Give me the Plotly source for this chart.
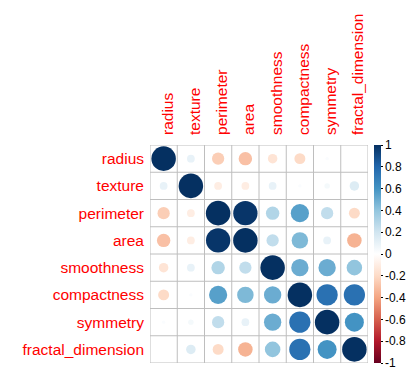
import plotly.graph_objects as go
import numpy as np

variables = ["radius", "texture", "perimeter", "area", "smoothness",
             "compactness", "symmetry", "fractal_dimension"]

row_radius      = [1.00, 0.10, -0.25, -0.30, -0.15, -0.20, 0.02, 0.00]
row_texture     = [0.10, 1.00, -0.10, -0.10, 0.10, 0.02, 0.05, 0.15]
row_perimeter   = [-0.25, -0.10, 1.00, 0.98, 0.30, 0.55, 0.25, -0.20]
row_area        = [-0.30, -0.10, 0.98, 1.00, 0.25, 0.45, 0.10, -0.35]
row_smoothness  = [-0.15, 0.10, 0.30, 0.25, 1.00, 0.50, 0.50, 0.40]
row_compactness = [-0.20, 0.02, 0.55, 0.45, 0.50, 1.00, 0.75, 0.75]
row_symmetry    = [0.02, 0.05, 0.25, 0.10, 0.50, 0.75, 1.00, 0.60]
row_fractal     = [0.00, 0.15, -0.20, -0.35, 0.40, 0.75, 0.60, 1.00]

corr = np.array([row_radius, row_texture, row_perimeter, row_area,
                 row_smoothness, row_compactness, row_symmetry, row_fractal])

cb_ticks = [-1, -0.8, -0.6, -0.4, -0.2, 0, 0.2, 0.4, 0.6, 0.8, 1]
cb_labels = ["-1", "-0.8", "-0.6", "-0.4", "-0.2", "0", "0.2", "0.4", "0.6", "0.8", "1"]

rdbu = ["#67001F", "#B2182B", "#D6604D", "#F4A582", "#FDDBC7", "#FFFFFF",
        "#D1E5F0", "#92C5DE", "#4393C3", "#2166AC", "#053061"]
colorscale = [[i / 10, c] for i, c in enumerate(rdbu)]

W, H = 415, 372
ml, mr, mt, mb = 150, 47, 145, 9
n = len(variables)
cell = (W - ml - mr) / n

xs, ys, vals, sizes = [], [], [], []
for i in range(n):
    for j in range(n):
        xs.append(j)
        ys.append(i)
        vals.append(corr[i, j])
        sizes.append(0.9 * np.sqrt(abs(corr[i, j])) * cell)

fig = go.Figure()
fig.add_trace(go.Scatter(
    x=xs, y=ys, mode="markers",
    marker=dict(size=sizes, color=vals, colorscale=colorscale, cmin=-1, cmax=1,
                opacity=1, line=dict(width=0),
                colorbar=dict(
                    xref="container", x=374 / W, xanchor="left",
                    yref="paper", y=0, yanchor="bottom", len=1, lenmode="fraction",
                    thickness=7, outlinewidth=0,
                    tickvals=cb_ticks, ticktext=cb_labels,
                    ticks="outside", ticklen=2, tickcolor="black",
                    tickfont=dict(family="Liberation Sans, Arial", size=12, color="black"),
                    ypad=0, xpad=0)),
    hoverinfo="skip", showlegend=False))

shapes = []
for k in range(n + 1):
    shapes.append(dict(type="line", xref="x", yref="y", x0=k - 0.5, x1=k - 0.5,
                       y0=-0.5, y1=n - 0.5, line=dict(color="#BEBEBE", width=1), layer="below"))
    shapes.append(dict(type="line", xref="x", yref="y", y0=k - 0.5, y1=k - 0.5,
                       x0=-0.5, x1=n - 0.5, line=dict(color="#BEBEBE", width=1), layer="below"))

lab_font = dict(family="Liberation Sans, Arial", size=15.5, color="red")
fig.update_layout(
    width=W, height=H, margin=dict(l=ml, r=mr, t=mt, b=mb, autoexpand=False),
    paper_bgcolor="white", plot_bgcolor="white",
    shapes=shapes,
    xaxis=dict(range=[-0.5, n - 0.5], side="top", tickvals=list(range(n)),
               ticktext=variables, tickangle=-90, tickfont=lab_font,
               showgrid=False, zeroline=False, showline=False, ticks="",
               automargin=False, ticklabelstandoff=9, ticklabelshift=4,
               fixedrange=True),
    yaxis=dict(range=[n - 0.5, -0.5], tickvals=list(range(n)), ticktext=variables,
               tickfont=lab_font, showgrid=False, zeroline=False, showline=False,
               ticks="", automargin=False, ticklabelstandoff=5, fixedrange=True),
)

fig.write_html("out.html", config={"displayModeBar": False},
               post_script="document.body.style.margin='0';")
